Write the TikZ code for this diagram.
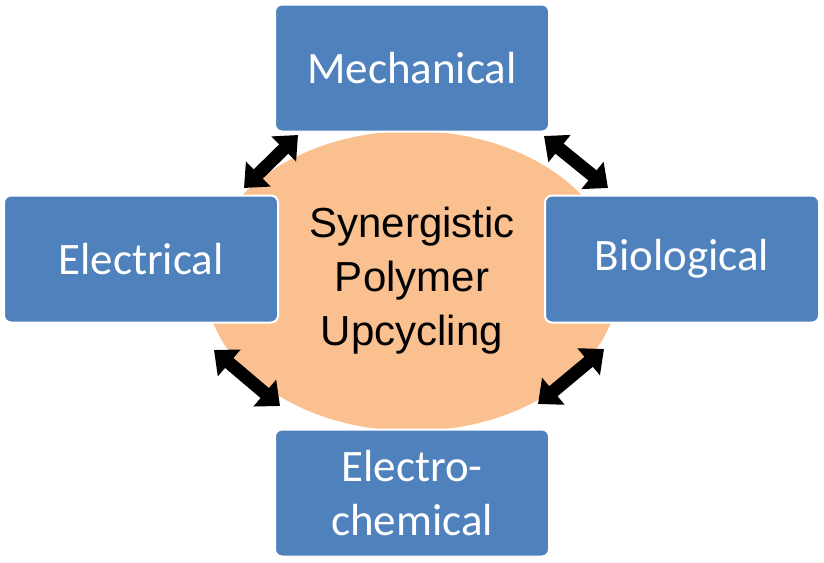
\documentclass[tikz,border=0pt]{standalone}
\usepackage{fontspec}
\setmainfont{Carlito}
\newfontfamily\arialf{Liberation Sans}
\usetikzlibrary{arrows.meta,shapes.geometric}
\definecolor{boxblue}{HTML}{4F81BD}
\definecolor{peach}{HTML}{FAC090}
\begin{document}
\begin{tikzpicture}[x=1pt,y=-1pt,
  box/.style={draw=white,line width=2pt,fill=boxblue,rounded corners=7pt,
    minimum width=274pt,minimum height=127pt,text=white,align=center,
    font=\fontsize{45}{54}\selectfont},
  dbl/.style={line width=13pt,{Triangle[width=34pt,length=20pt]}-{Triangle[width=34pt,length=20pt]}}]
\useasboundingbox (0,0) rectangle (824,562);
\node[ellipse,fill=peach,minimum width=414pt,minimum height=300pt,
  font=\arialf\fontsize{42}{54}\selectfont,align=center] (c) at (412,281)
  {Synergistic\\Polymer\\Upcycling};
\node[box] (m) at (412,68) {Mechanical};
\node[box] (e) at (141,259) {Electrical};
\node[box] (b) at (682,259) {Biological};
\node[box] (ec) at (412,493) {Electro-\\chemical};
\coordinate (a1) at (244,188); \coordinate (a2) at (298,135);
\coordinate (b1) at (544,136); \coordinate (b2) at (608,188);
\coordinate (c1) at (214,350); \coordinate (c2) at (280,406);
\coordinate (d1) at (538,404); \coordinate (d2) at (604,349);
\draw[dbl] (a1) -- (a2);
\draw[dbl] (b1) -- (b2);
\draw[dbl] (c1) -- (c2);
\draw[dbl] (d1) -- (d2);
\end{tikzpicture}
\end{document}
